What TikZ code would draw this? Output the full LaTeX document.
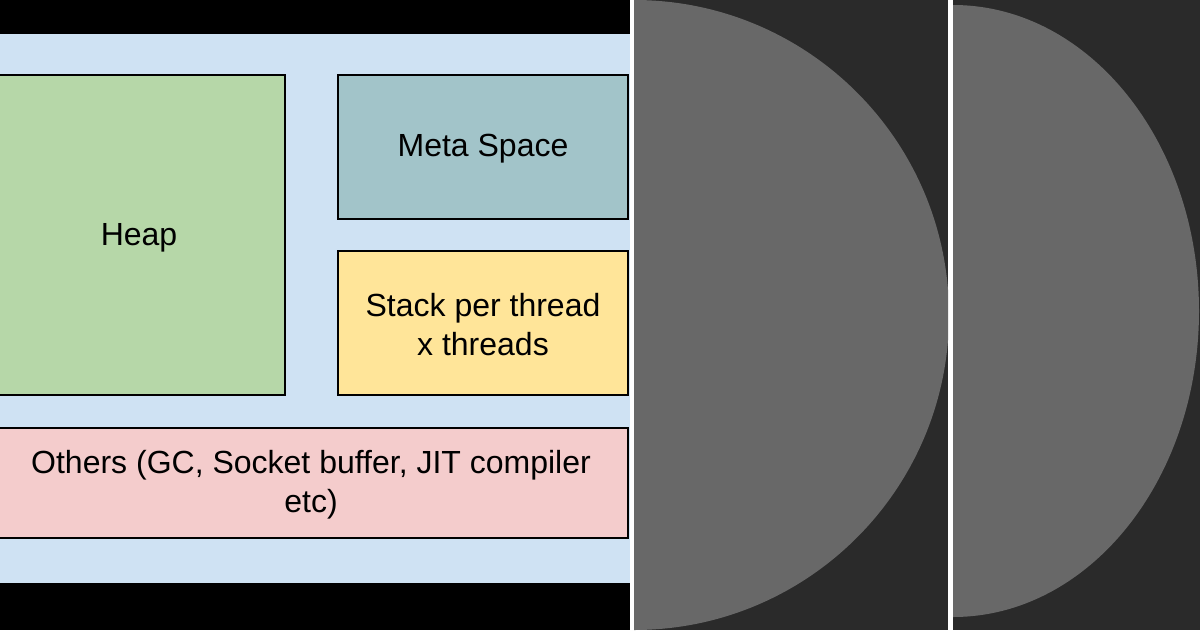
\documentclass[tikz,border=0pt]{standalone}
\usepackage{fontspec}
\setmainfont{Liberation Sans}
\definecolor{bgblue}{HTML}{CFE2F3}
\definecolor{heapc}{HTML}{B6D7A8}
\definecolor{metac}{HTML}{A2C4C9}
\definecolor{stackc}{HTML}{FFE599}
\definecolor{othc}{HTML}{F4CCCC}
\definecolor{darkp}{HTML}{2A2A2A}
\definecolor{discc}{HTML}{686868}
\tikzset{box/.style={draw=black, line width=1.2pt},
  lab/.style={align=center, font=\fontsize{32}{39}\selectfont}}
\begin{document}
\begin{tikzpicture}[x=1pt,y=-1pt]
\useasboundingbox (0,0) rectangle (1200,630);
\fill[black] (0,0) rectangle (630,630);
\fill[bgblue] (0,34) rectangle (630,583);
\fill[white] (630,0) rectangle (1200,630);
\fill[darkp] (634,0) rectangle (948,630);
\fill[darkp] (953,0) rectangle (1200,630);
\begin{scope}
\clip (634,0) rectangle (948,630);
\fill[discc] (634,315) circle[radius=315];
\end{scope}
\begin{scope}
\clip (953,0) rectangle (1200,630);
\fill[discc] (953,311) ellipse[x radius=246, y radius=306];
\end{scope}
\draw[box, fill=heapc] (-2,75) rectangle (285,395);
\node[lab] (heap) at (139,238) {Heap};
\draw[box, fill=metac] (338,75) rectangle (628,219);
\node[lab] (meta) at (483,149) {Meta Space};
\draw[box, fill=stackc] (338,251) rectangle (628,395);
\node[lab] (stack) at (483,325) {Stack per thread\\x threads};
\draw[box, fill=othc] (-2,428) rectangle (628,538);
\node[lab] (oth) at (311,485) {Others (GC, Socket buffer, JIT compiler\\etc)};
\end{tikzpicture}
\end{document}
